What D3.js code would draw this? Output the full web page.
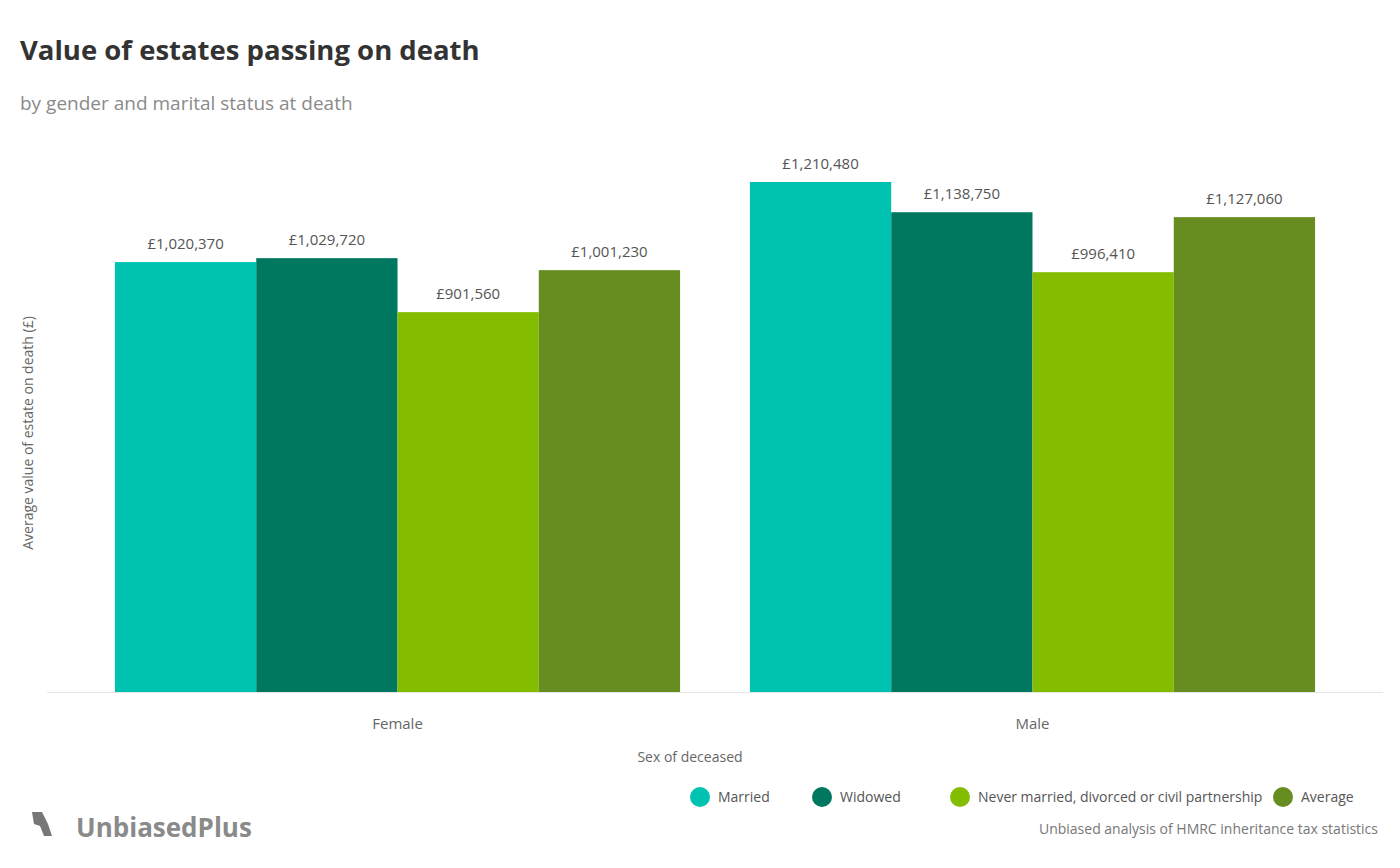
<!DOCTYPE html>
<html>
<head>
<meta charset="utf-8">
<script src="https://cdn.jsdelivr.net/npm/d3@7"></script>
<style>
  html, body { margin: 0; padding: 0; background: #ffffff; }
  svg { display: block; font-family: "Open Sans", "Liberation Sans", sans-serif; }
</style>
</head>
<body>
<svg id="chart" width="1400" height="868"></svg>
<script>
// ---- data ----
const categories = ["Female", "Male"];
const seriesNames = ["Married", "Widowed", "Never married, divorced or civil partnership", "Average"];
const seriesColors = ["#00c2b0", "#00785f", "#84bd00", "#678c1f"];
const married = [1020370, 1210480];
const widowed = [1029720, 1138750];
const single  = [901560, 996410];
const average = [1001230, 1127060];
const seriesValues = [married, widowed, single, average];

const titleText = "Value of estates passing on death";
const subtitleText = "by gender and marital status at death";
const yTitle = "Average value of estate on death (£)";
const xTitle = "Sex of deceased";
const sourceText = "Unbiased analysis of HMRC inheritance tax statistics";
const logoText = "UnbiasedPlus";

// ---- layout ----
const svg = d3.select("#chart");
const baseY = 692;
const topY = 182;
const maxVal = d3.max(seriesValues.flat());

const x = d3.scaleBand().domain(categories).range([47, 1383]).paddingInner(0.11).paddingOuter(0.107);
const xs = d3.scaleBand().domain(seriesNames).range([0, x.bandwidth()]).padding(0);
const y = d3.scaleLinear().domain([0, maxVal]).range([baseY, topY]);

// title / subtitle
svg.append("text").attr("x", 20).attr("y", 60).attr("font-size", 27.5).attr("font-weight", 700)
  .attr("fill", "#333333").text(titleText);
svg.append("text").attr("x", 20).attr("y", 110).attr("font-size", 19)
  .attr("fill", "#8a8a8a").text(subtitleText);

// baseline
svg.append("line").attr("x1", 47).attr("x2", 1383).attr("y1", baseY + 0.5).attr("y2", baseY + 0.5)
  .attr("stroke", "#e6e6e6").attr("stroke-width", 1);

// bars
const rows = [];
categories.forEach((c, ci) => seriesNames.forEach((s, si) => rows.push({ c, s, si, v: seriesValues[si][ci] })));

svg.append("g").selectAll("rect").data(rows).join("rect")
  .attr("x", d => x(d.c) + xs(d.s))
  .attr("y", d => y(d.v))
  .attr("width", xs.bandwidth())
  .attr("height", d => baseY - y(d.v))
  .attr("fill", d => seriesColors[d.si]);

const fmt = v => "£" + d3.format(",")(v);
svg.append("g").selectAll("text").data(rows).join("text")
  .attr("x", d => x(d.c) + xs(d.s) + xs.bandwidth() / 2)
  .attr("y", d => y(d.v) - 13)
  .attr("text-anchor", "middle").attr("font-size", 15).attr("fill", "#555555")
  .text(d => fmt(d.v));

// x axis labels
const xAxis = d3.axisBottom(x).tickSize(0).tickPadding(0);
const gx = svg.append("g").attr("transform", `translate(0,${baseY})`).call(xAxis);
gx.select(".domain").remove();
gx.selectAll("text").attr("dy", 0).attr("y", 37).attr("font-size", 15).attr("fill", "#666666")
  .attr("font-family", "Open Sans, Liberation Sans, sans-serif");

// axis titles
svg.append("text").attr("x", 690).attr("y", 762).attr("text-anchor", "middle")
  .attr("font-size", 14).attr("fill", "#666666").text(xTitle);
svg.append("text").attr("transform", "translate(33,433) rotate(-90)").attr("text-anchor", "middle")
  .attr("font-size", 14).attr("fill", "#666666").text(yTitle);

// legend
const legendX = [700, 822, 960, 1283];
const lg = svg.append("g").selectAll("g").data(seriesNames).join("g")
  .attr("transform", (d, i) => `translate(${legendX[i]},797)`);
lg.append("circle").attr("r", 10).attr("fill", (d, i) => seriesColors[i]);
lg.append("text").attr("x", 18).attr("y", 5).attr("font-size", 14).attr("fill", "#555555").text(d => d);

// source
svg.append("text").attr("x", 1378).attr("y", 834).attr("text-anchor", "end")
  .attr("font-size", 14).attr("fill", "#777777").text(sourceText);

// logo
const logo = svg.append("g").attr("transform", "translate(28,810)");
logo.append("path").attr("d", "M4,2 L14,2 L20,14 L24,26 L16,26 L12,16 L6,14 Z").attr("fill", "#777777");
logo.append("text").attr("x", 48).attr("y", 27).attr("font-size", 26).attr("font-weight", 700)
  .attr("fill", "#8a8a8a").text(logoText);
</script>
</body>
</html>
